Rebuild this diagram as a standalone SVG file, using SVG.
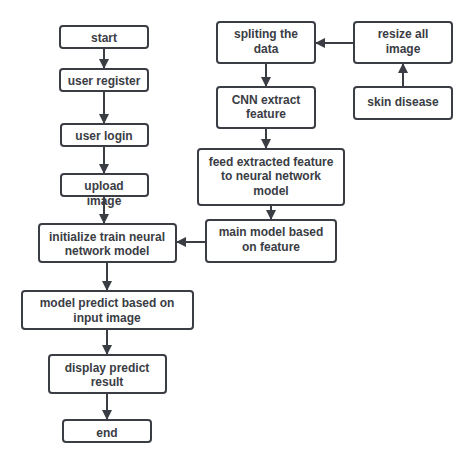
<svg xmlns="http://www.w3.org/2000/svg" width="474" height="464" viewBox="0 0 474 464">
<defs>
<marker id="ah" viewBox="0 0 10 10" refX="10" refY="5" markerWidth="10" markerHeight="10" markerUnits="userSpaceOnUse" orient="auto">
<path d="M0,0 L10,5 L0,10 z" fill="#3a3d44"/>
</marker>
</defs>
<style>
rect{fill:#fff;stroke:#3a3d44;stroke-width:2}
text{font-family:"Liberation Sans",Arial,sans-serif;font-weight:bold;font-size:12px;fill:#3a3d44;text-anchor:middle}
.c line{stroke:#3a3d44;stroke-width:2;marker-end:url(#ah)}
</style>
<rect x="0" y="0" width="474" height="464" style="stroke:none"/>
<g class="c">
<line x1="104" y1="48" x2="104" y2="69"/>
<line x1="104" y1="91" x2="104" y2="124"/>
<line x1="104" y1="146" x2="104" y2="174"/>
<line x1="104" y1="196" x2="104" y2="224"/>
<line x1="107" y1="262" x2="107" y2="291"/>
<line x1="107" y1="329" x2="107" y2="355"/>
<line x1="107" y1="393" x2="107" y2="420"/>
<line x1="206" y1="242" x2="176" y2="242"/>
<line x1="354" y1="43" x2="315" y2="43"/>
<line x1="403" y1="87" x2="403" y2="63"/>
<line x1="266" y1="63" x2="266" y2="87"/>
<line x1="266" y1="128" x2="266" y2="149"/>
<line x1="271" y1="205" x2="271" y2="220"/>
</g>
<g id="start"><rect x="60" y="26" width="88" height="22" rx="3"/><text x="104" y="42">start</text></g>
<g id="register"><rect x="60" y="69" width="88" height="22" rx="3"/><text x="104" y="85">user register</text></g>
<g id="login"><rect x="61" y="124" width="87" height="22" rx="3"/><text x="104" y="140">user login</text></g>
<g id="upload"><rect x="61" y="174" width="87" height="22" rx="3"/><text x="104" y="190">upload</text><text x="104" y="205">image</text></g>
<g id="init"><rect x="39" y="224" width="137" height="38" rx="3"/><text x="107" y="241">initialize train neural</text><text x="107" y="255">network model</text></g>
<g id="predict"><rect x="22" y="291" width="171" height="38" rx="3"/><text x="107" y="307">model predict based on</text><text x="107" y="322">input image</text></g>
<g id="display"><rect x="49" y="355" width="117" height="38" rx="3"/><text x="107" y="372">display predict</text><text x="107" y="386">result</text></g>
<g id="end"><rect x="63" y="420" width="88" height="22" rx="3"/><text x="107" y="437">end</text></g>
<g id="split"><rect x="217" y="22" width="98" height="41" rx="3"/><text x="266" y="38">spliting the</text><text x="266" y="53">data</text></g>
<g id="resize"><rect x="354" y="22" width="98" height="41" rx="3"/><text x="403" y="38">resize all</text><text x="403" y="53">image</text></g>
<g id="skin"><rect x="354" y="87" width="98" height="32" rx="3"/><text x="403" y="106">skin disease</text></g>
<g id="cnn"><rect x="217" y="87" width="98" height="41" rx="3"/><text x="266" y="104">CNN extract</text><text x="266" y="118">feature</text></g>
<g id="feed"><rect x="198" y="149" width="146" height="56" rx="3"/><text x="271" y="166">feed extracted feature</text><text x="271" y="180">to neural network</text><text x="271" y="195">model</text></g>
<g id="main"><rect x="206" y="220" width="130" height="42" rx="3"/><text x="271" y="236">main model based</text><text x="271" y="251">on feature</text></g>
</svg>
